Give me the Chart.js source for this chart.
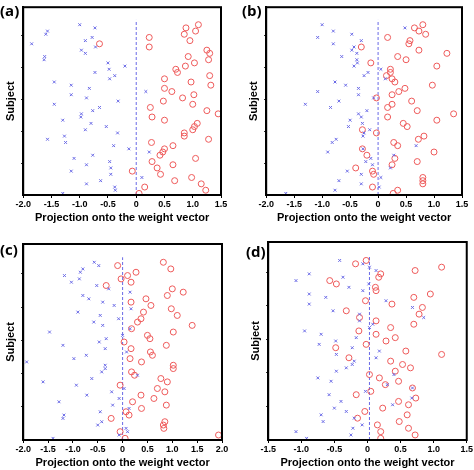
<!DOCTYPE html>
<html>
<head>
<meta charset="utf-8">
<script src="https://cdn.jsdelivr.net/npm/chart.js@4.4.1/dist/chart.umd.min.js"></script>
<style>
  body { margin: 0; background: #fff; font-family: "Open Sans", "Liberation Sans", sans-serif; }
  .panel { position: absolute; }
  .tag { position: absolute; font: bold 15px "Open Sans", sans-serif; color: #000; z-index: 2; }
</style>
</head>
<body>
<div class="panel" style="left:0;top:0;width:237px;height:225px"><canvas id="ca"></canvas></div>
<div class="panel" style="left:237px;top:0;width:237px;height:225px"><canvas id="cb"></canvas></div>
<div class="panel" style="left:0;top:232px;width:237px;height:238px"><canvas id="cc"></canvas></div>
<div class="panel" style="left:237px;top:232px;width:237px;height:238px"><canvas id="cd"></canvas></div>
<div class="tag" style="left:0;top:0">(a)</div>
<div class="tag" style="left:242px;top:0">(b)</div>
<div class="tag" style="left:0;top:239px">(c)</div>
<div class="tag" style="left:246px;top:241px">(d)</div>
<script>
// x projections per subject, listed top row first
const crossA = [-1.0,-0.73,-1.57,-1.6,-0.78,-0.9,-1.85,-0.72,-0.97,-0.9,-1.62,-1.63,-0.5,-0.2,-0.48,-0.73,-0.38,-0.47,-1.45,-1.15,-0.83,0.17,-1.15,-0.88,-0.32,-1.45,-0.65,-0.77,-0.97,-0.98,-1.3,-0.8,-0.53,-0.9,-0.33,-1.27,-1.57,-1.25,-0.4,-0.13,0.23,-0.77,-1.1,-0.47,-0.88,-0.45,-1.15,-0.45,0.1,-0.63,-0.88,-0.38,-0.37,-1.3];
const circA = [1.1,0.88,1.05,0.85,0.23,0.95,-0.65,0.23,1.25,1.3,0.92,1.28,1.03,0.87,0.7,0.73,1.3,0.5,0.97,1.32,0.5,0.63,1.02,0.82,0.48,1.0,0.25,1.25,1.45,0.28,0.5,1.08,1.03,1.0,0.85,0.85,1.28,0.27,0.65,0.5,0.47,0.42,1.05,0.28,0.65,0.37,-0.07,0.43,0.98,0.68,1.15,0.15,1.23,0.05];
const crossB = [-1.0,0.48,-0.8,-0.47,-1.08,-0.3,-0.8,-0.43,-0.47,-0.38,-0.65,-0.38,-0.37,-0.43,0.05,-0.18,-0.25,0.13,-0.77,-0.58,-0.35,-1.08,-0.35,-0.08,-0.7,-1.3,-0.85,-0.2,-0.35,-0.3,-0.5,-0.28,-0.53,-0.15,-0.25,-0.27,-0.75,-0.82,0.68,-0.27,-0.9,0.28,-0.13,-0.22,-0.1,0.22,-0.55,-0.3,0.05,-0.7,-0.3,0.02,-0.77,-1.65];
const circB = [0.8,0.65,0.73,0.85,0.17,0.57,0.55,-0.3,0.73,1.23,0.35,0.5,-0.13,1.05,0.22,0.22,0.15,0.25,0.3,0.97,0.48,0.37,0.25,-0.03,0.6,0.25,0.17,0.7,1.35,0.17,1.05,0.45,0.52,-0.28,-0.03,0.82,0.72,0.28,0.35,-0.28,1.0,-0.2,0.3,0.7,0.25,-0.4,-0.1,-0.08,0.8,0.8,0.8,-0.1,0.35,0.27];
const crossC = [-0.57,-0.48,-0.8,-0.85,-1.17,-0.87,-1.03,-0.52,-0.28,0.15,-0.8,-0.68,-0.4,-0.17,0.17,-0.9,-0.45,-0.08,-0.58,-0.4,0.15,-1.47,0.0,-0.33,-0.47,-1.2,-0.35,0.08,-0.73,-0.98,-1.93,-0.35,-0.35,-0.42,0.3,-0.62,-1.6,-0.93,0.03,-0.22,-0.72,-0.07,-1.28,-0.2,0.13,-0.45,-1.18,-1.2,-0.42,-0.5,0.07,0.1,-0.07,-1.4];
const circC = [0.82,-0.1,0.97,0.27,0.1,-0.03,0.17,-0.33,1.0,1.22,0.9,0.47,0.17,0.57,0.98,0.42,1.1,0.37,0.3,1.4,0.18,1.02,0.5,0.55,0.03,0.88,0.17,0.56,0.6,0.15,0.38,1.02,1.02,0.18,0.24,0.77,0.9,-0.05,0.7,0.85,0.37,0.63,0.2,0.88,0.38,0.07,0.13,-0.23,0.85,0.82,0.83,-0.05,1.93,0.05];
const crossD = [-0.42,-0.07,0.03,0.13,-0.88,-0.37,-1.08,0.02,-0.28,-0.07,-0.88,-0.63,0.28,-0.88,0.68,-0.52,-0.12,0.85,-0.12,0.08,0.03,-0.95,-0.7,-0.17,-0.48,-0.73,-0.23,0.18,-0.47,0.13,-0.2,-0.23,-0.32,-0.47,0.4,-0.75,-0.55,0.3,0.68,-0.03,-0.58,0.67,-0.4,0.38,-0.5,-0.32,-0.7,-0.2,-0.67,-0.08,-0.22,-1.08,-0.25,-0.92];
const circD = [-0.02,-0.18,1.12,0.72,0.2,0.17,-0.57,-0.47,0.12,0.13,0.95,0.7,-0.03,0.37,0.83,-0.32,0.78,-0.12,0.13,0.7,0.35,-0.13,0.13,0.42,0.28,-0.02,-0.48,0.58,1.12,-0.28,0.35,0.53,0.65,0.42,0.03,0.18,0.47,0.27,0.68,0.05,-0.17,0.73,0.47,0.62,0.23,-0.04,0.6,-0.15,0.48,0.15,0.62,0.2,0.72,0.2];

const xTicksAB = [-2, -1.5, -1, -0.5, 0, 0.5, 1, 1.5];
const xTicksC = [-2, -1.5, -1, -0.5, 0, 0.5, 1, 1.5, 2];
const xTicksD = [-1.5, -1, -0.5, 0, 0.5, 1, 1.5];
const yTicks = [10, 20, 30, 40, 50];
const boundaries = [0, 0, 0, 0.03];

const BLUE = '#6a6ae6';
const RED = '#ee5a5a';

function toPoints(xs) {
    return xs.map((x, i) => ({ x: x, y: xs.length - i - 0.5 }));
}

function makePanel(id, crosses, circles, xTicks, boundary, pad) {
    const ctx = document.getElementById(id).getContext('2d');
    new Chart(ctx, {
        type: 'scatter',
        data: {
            datasets: [
                {
                    data: toPoints(crosses),
                    pointStyle: 'crossRot',
                    radius: 2,
                    borderColor: BLUE,
                    borderWidth: 1
                },
                {
                    data: toPoints(circles),
                    pointStyle: 'circle',
                    radius: 3,
                    borderColor: RED,
                    backgroundColor: 'rgba(0,0,0,0)',
                    borderWidth: 1
                },
                {
                    type: 'line',
                    data: [{ x: boundary, y: 0 }, { x: boundary, y: 55 }],
                    borderColor: BLUE,
                    borderWidth: 1,
                    borderDash: [3, 2],
                    pointRadius: 0
                }
            ]
        },
        options: {
            responsive: true,
            maintainAspectRatio: false,
            animation: false,
            layout: { padding: pad },
            plugins: { legend: { display: false }, tooltip: { enabled: false } },
            scales: {
                x: {
                    min: xTicks[0],
                    max: xTicks[xTicks.length - 1],
                    afterBuildTicks: (ax) => { ax.ticks = xTicks.map(v => ({ value: v })); },
                    border: { color: '#000', width: 2 },
                    grid: { drawOnChartArea: false, color: '#000', tickLength: 3 },
                    ticks: { color: '#000', font: { size: 9, weight: 'bold' }, padding: 1, maxRotation: 0 },
                    title: { display: true, text: 'Projection onto the weight vector', color: '#000',
                             font: { size: 11, weight: 'bold' }, padding: { top: 1, bottom: 0 } }
                },
                y: {
                    min: 0,
                    max: 59,
                    afterBuildTicks: (ax) => { ax.ticks = yTicks.map(v => ({ value: v })); },
                    border: { color: '#000', width: 2 },
                    grid: { drawOnChartArea: false, color: '#000', tickLength: 2 },
                    ticks: { callback: () => '', padding: 0 },
                    title: { display: true, text: 'Subject', color: '#000',
                             font: { size: 11, weight: 'bold' }, padding: { top: 0, bottom: 4 } }
                }
            }
        },
        plugins: [{
            id: 'frame',
            afterDraw(chart) {
                const a = chart.chartArea, c = chart.ctx;
                c.save();
                c.strokeStyle = '#000';
                c.lineWidth = 2;
                c.strokeRect(a.left, a.top, a.right - a.left, a.bottom - a.top);
                c.restore();
            }
        }]
    });
}

makePanel('ca', crossA, circA, xTicksAB, boundaries[0], { top: 4, left: 4, right: 16 });
makePanel('cb', crossB, circB, xTicksAB, boundaries[1], { top: 1, left: 10, right: 12 });
makePanel('cc', crossC, circC, xTicksC, boundaries[2], { top: 12, left: 4, right: 15 });
makePanel('cd', crossD, circD, xTicksD, boundaries[3], { top: 10, left: 12, right: 6 });
</script>
</body>
</html>
